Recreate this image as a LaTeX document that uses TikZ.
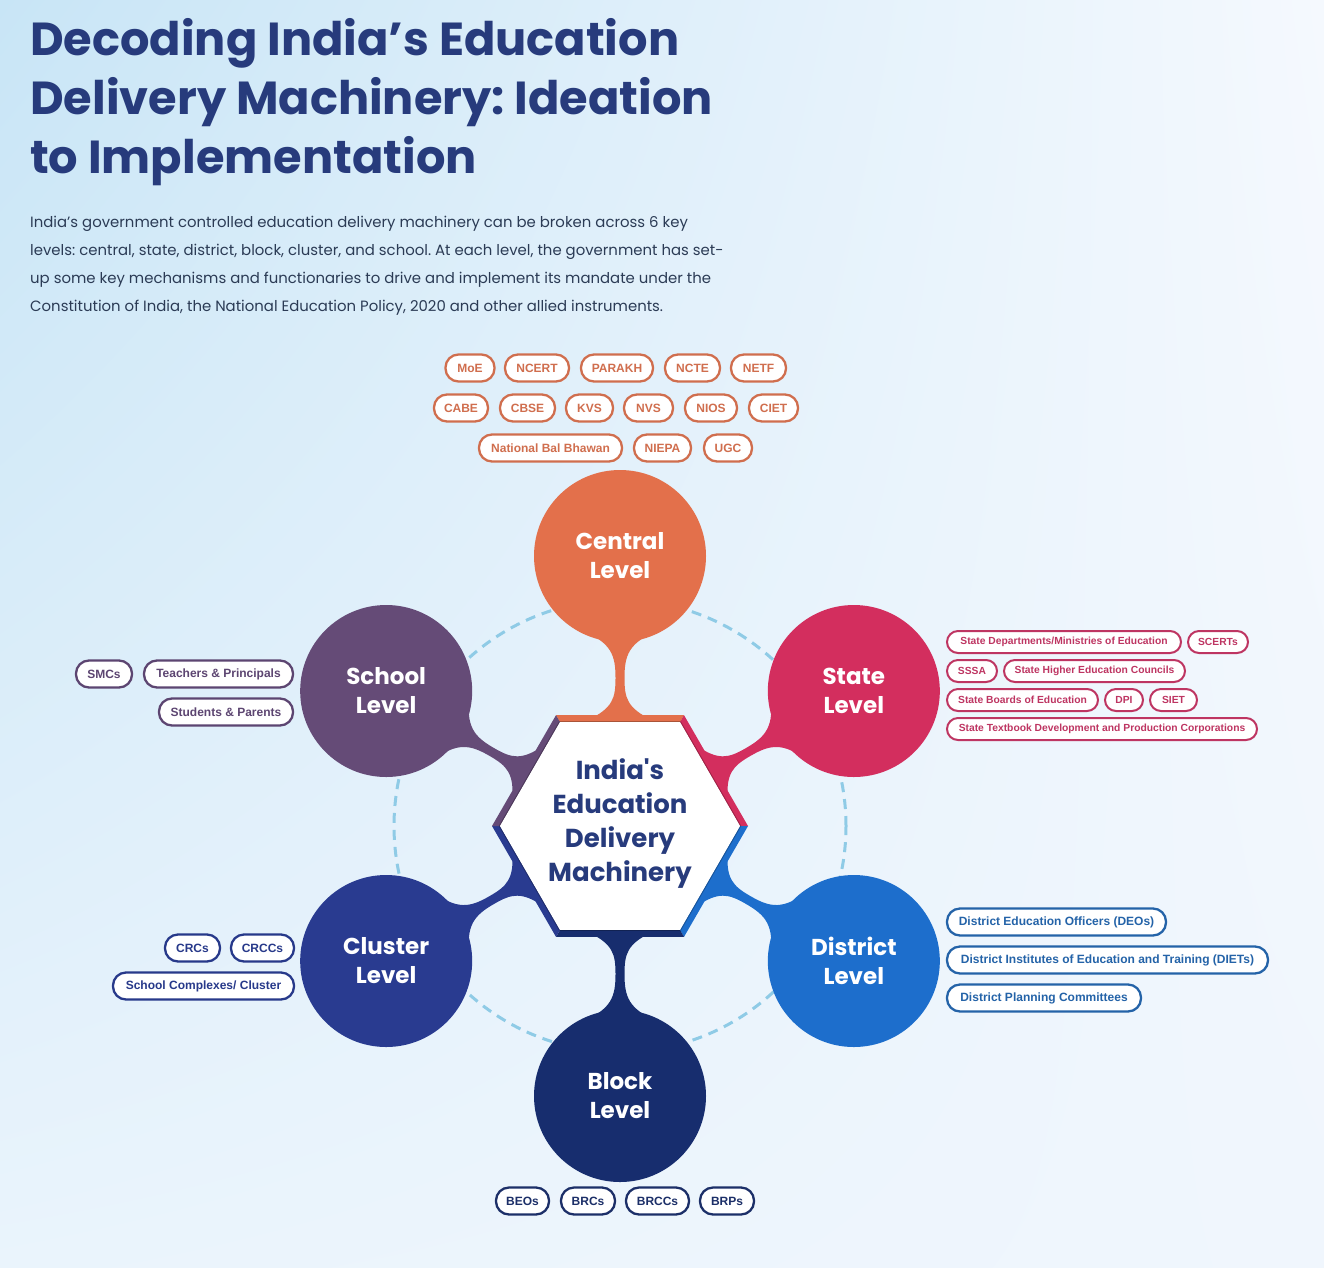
\documentclass[tikz,border=0pt]{standalone}
\usepackage{fontspec}
\usetikzlibrary{shadings}
\setmainfont{Poppins}
\newfontfamily\plainpop{Poppins}[Ligatures=TeXOff]
\newfontfamily\chipfont{Liberation Sans}
\frenchspacing
\definecolor{cOr}{HTML}{E3704B}
\definecolor{cSt}{HTML}{D32E5E}
\definecolor{cSc}{HTML}{654B77}
\definecolor{cCl}{HTML}{293B90}
\definecolor{cDi}{HTML}{1D6ECC}
\definecolor{cBl}{HTML}{172D6E}
\definecolor{kOr}{HTML}{D06E4E}
\definecolor{kSt}{HTML}{BE3562}
\definecolor{kSc}{HTML}{5C4571}
\definecolor{kCl}{HTML}{27398A}
\definecolor{kDi}{HTML}{2463A8}
\definecolor{kBl}{HTML}{1C2F68}
\definecolor{ttl}{HTML}{273B7C}
\definecolor{bodyc}{HTML}{2B3B55}
\definecolor{dashc}{HTML}{8FCBE6}
\definecolor{bgA}{HTML}{C8E5F6}
\definecolor{bgB}{HTML}{F5F9FE}
\definecolor{bgC}{HTML}{EAF4FC}
\definecolor{bgD}{HTML}{F0F6FD}
\tikzset{
  chip/.style={draw=#1, text=#1, fill=white, line width=2.3pt, rounded corners=13pt,
    minimum height=27pt, inner sep=0pt, font=\chipfont\bfseries\fontsize{12}{12}\selectfont},
  chips/.style={draw=#1, text=#1, fill=white, line width=2pt, rounded corners=11pt,
    minimum height=22pt, inner sep=0pt, font=\chipfont\bfseries\fontsize{10.3}{10.3}\selectfont},
  lvl/.style={circle, fill=#1, minimum size=172pt, inner sep=0pt, text=white, align=center,
    font=\fontsize{23}{29}\selectfont\bfseries},
  titletext/.style={anchor=base west, inner sep=0pt, text=ttl, font=\fontsize{46.3}{46.3}\selectfont\bfseries},
  bodytext/.style={anchor=base west, inner sep=0pt, text=bodyc, font=\fontsize{14.9}{14.9}\selectfont},
}
\begin{document}
\begin{tikzpicture}[x=1pt,y=-1pt]
\useasboundingbox (0,0) rectangle (1324,1267);
\shade[upper left=bgA, upper right=bgB, lower left=bgC, lower right=bgD] (0,0) rectangle (1324,1267);

% title
\node[titletext] (t1) at (30,55) {Decoding India’s Education};
\node[titletext] (t2) at (30,114) {Delivery Machinery: Ideation};
\node[titletext] (t3) at (30,173) {to Implementation};

% body
\node[bodytext] (b1) at (30,227) {India’s government controlled education delivery machinery can be broken across 6 key};
\node[bodytext] (b2) at (30,255) {levels: central, state, district, block, cluster, and school. At each level, the government has set-};
\node[bodytext] (b3) at (30,283) {up some key mechanisms and functionaries to drive and implement its mandate under the};
\node[bodytext] (b4) at (30,311) {Constitution of India, the National Education Policy, 2020 and other allied instruments.};

% hub
\begin{scope}[shift={(620pt,-826pt)}, x=1pt, y=1pt]
  \draw[dashc, line width=3pt, dash pattern=on 10pt off 7pt] (0,0) circle (226pt);
  \foreach \a/\c in {90/cOr,30/cSt,-30/cDi,-90/cBl,210/cCl,150/cSc}{
    \fill[\c, rotate=\a] (106,-32) .. controls (118,-7) and (128,-4.5) .. (148,-4.5)
      .. controls (170,-4.5) and (184,-8) .. (196,-40) -- (196,40)
      .. controls (184,8) and (170,4.5) .. (148,4.5)
      .. controls (128,4.5) and (118,7) .. (106,32) -- cycle;
  }
  \node[lvl=cOr] (central) at (90:270) {Central\\Level};
  \node[lvl=cSt] (state) at (30:270) {State\\Level};
  \node[lvl=cDi] (district) at (-30:270) {District\\Level};
  \node[lvl=cBl] (block) at (-90:270) {Block\\Level};
  \node[lvl=cCl] (cluster) at (210:270) {Cluster\\Level};
  \node[lvl=cSc] (school) at (150:270) {School\\Level};
  \foreach \a/\c in {90/cOr,30/cSt,-30/cDi,-90/cBl,210/cCl,150/cSc}{
    \fill[\c] (\a-30:128) -- (\a+30:128) -- (\a+30:120) -- (\a-30:120) -- cycle;
    \draw[\c!75!black, line width=1.2pt] (\a-30:120.6) -- (\a+30:120.6);
  }
  \fill[white] (0:120) -- (60:120) -- (120:120) -- (180:120) -- (240:120) -- (300:120) -- cycle;
  \node[align=center, text=ttl, inner sep=0pt, font=\plainpop\fontsize{26}{34}\selectfont\bfseries] (hub) at (0,2)
    {India's\\Education\\Delivery\\Machinery};
\end{scope}

% central chips
\node[chip=kOr, minimum width=49pt] (c1) at (470,368) {MoE};
\node[chip=kOr, minimum width=64pt] (c2) at (537,368) {NCERT};
\node[chip=kOr, minimum width=72pt] (c3) at (617,368) {PARAKH};
\node[chip=kOr, minimum width=55pt] (c4) at (692.5,368) {NCTE};
\node[chip=kOr, minimum width=55pt] (c5) at (758.5,368) {NETF};
\node[chip=kOr, minimum width=54pt] (c6) at (461,408) {CABE};
\node[chip=kOr, minimum width=55pt] (c7) at (527.5,408) {CBSE};
\node[chip=kOr, minimum width=47pt] (c8) at (589.5,408) {KVS};
\node[chip=kOr, minimum width=49pt] (c9) at (648.5,408) {NVS};
\node[chip=kOr, minimum width=52pt] (c10) at (711,408) {NIOS};
\node[chip=kOr, minimum width=49pt] (c11) at (773.5,408) {CIET};
\node[chip=kOr, minimum width=143pt] (c12) at (550.5,448) {National Bal Bhawan};
\node[chip=kOr, minimum width=57pt] (c13) at (662.5,448) {NIEPA};
\node[chip=kOr, minimum width=48pt] (c14) at (728,448) {UGC};

% state chips
\node[chips=kSt, minimum width=234pt] (s1) at (1064,642) {State Departments/Ministries of Education};
\node[chips=kSt, minimum width=60pt] (s2) at (1218,642) {SCERTs};
\node[chips=kSt, minimum width=50pt] (s3) at (972,671) {SSSA};
\node[chips=kSt, minimum width=181pt] (s4) at (1094.5,671) {State Higher Education Councils};
\node[chips=kSt, minimum width=151pt] (s5) at (1022.5,700) {State Boards of Education};
\node[chips=kSt, minimum width=38pt] (s6) at (1124,700) {DPI};
\node[chips=kSt, minimum width=47pt] (s7) at (1173.5,700) {SIET};
\node[chips=kSt, minimum width=310pt] (s8) at (1102,729) {State Textbook Development and Production Corporations};

% district chips
\node[chip=kDi, minimum width=219pt] (d1) at (1056.5,922) {District Education Officers (DEOs)};
\node[chip=kDi, minimum width=321pt] (d2) at (1107.5,960) {District Institutes of Education and Training (DIETs)};
\node[chip=kDi, minimum width=194pt] (d3) at (1044,998) {District Planning Committees};

% school chips
\node[chip=kSc, minimum width=56pt] (sc1) at (104,674) {SMCs};
\node[chip=kSc, minimum width=149pt] (sc2) at (218.5,674) {Teachers \& Principals};
\node[chip=kSc, minimum width=134pt] (sc3) at (226,712) {Students \& Parents};

% cluster chips
\node[chip=kCl, minimum width=55pt] (cl1) at (192.5,948) {CRCs};
\node[chip=kCl, minimum width=63pt] (cl2) at (262.5,948) {CRCCs};
\node[chip=kCl, minimum width=181pt] (cl3) at (203.5,986) {School Complexes/ Cluster};

% block chips
\node[chip=kBl, minimum width=53pt] (bl1) at (522.5,1201) {BEOs};
\node[chip=kBl, minimum width=54pt] (bl2) at (588,1201) {BRCs};
\node[chip=kBl, minimum width=63pt] (bl3) at (657.5,1201) {BRCCs};
\node[chip=kBl, minimum width=54pt] (bl4) at (727,1201) {BRPs};
\end{tikzpicture}
\end{document}
